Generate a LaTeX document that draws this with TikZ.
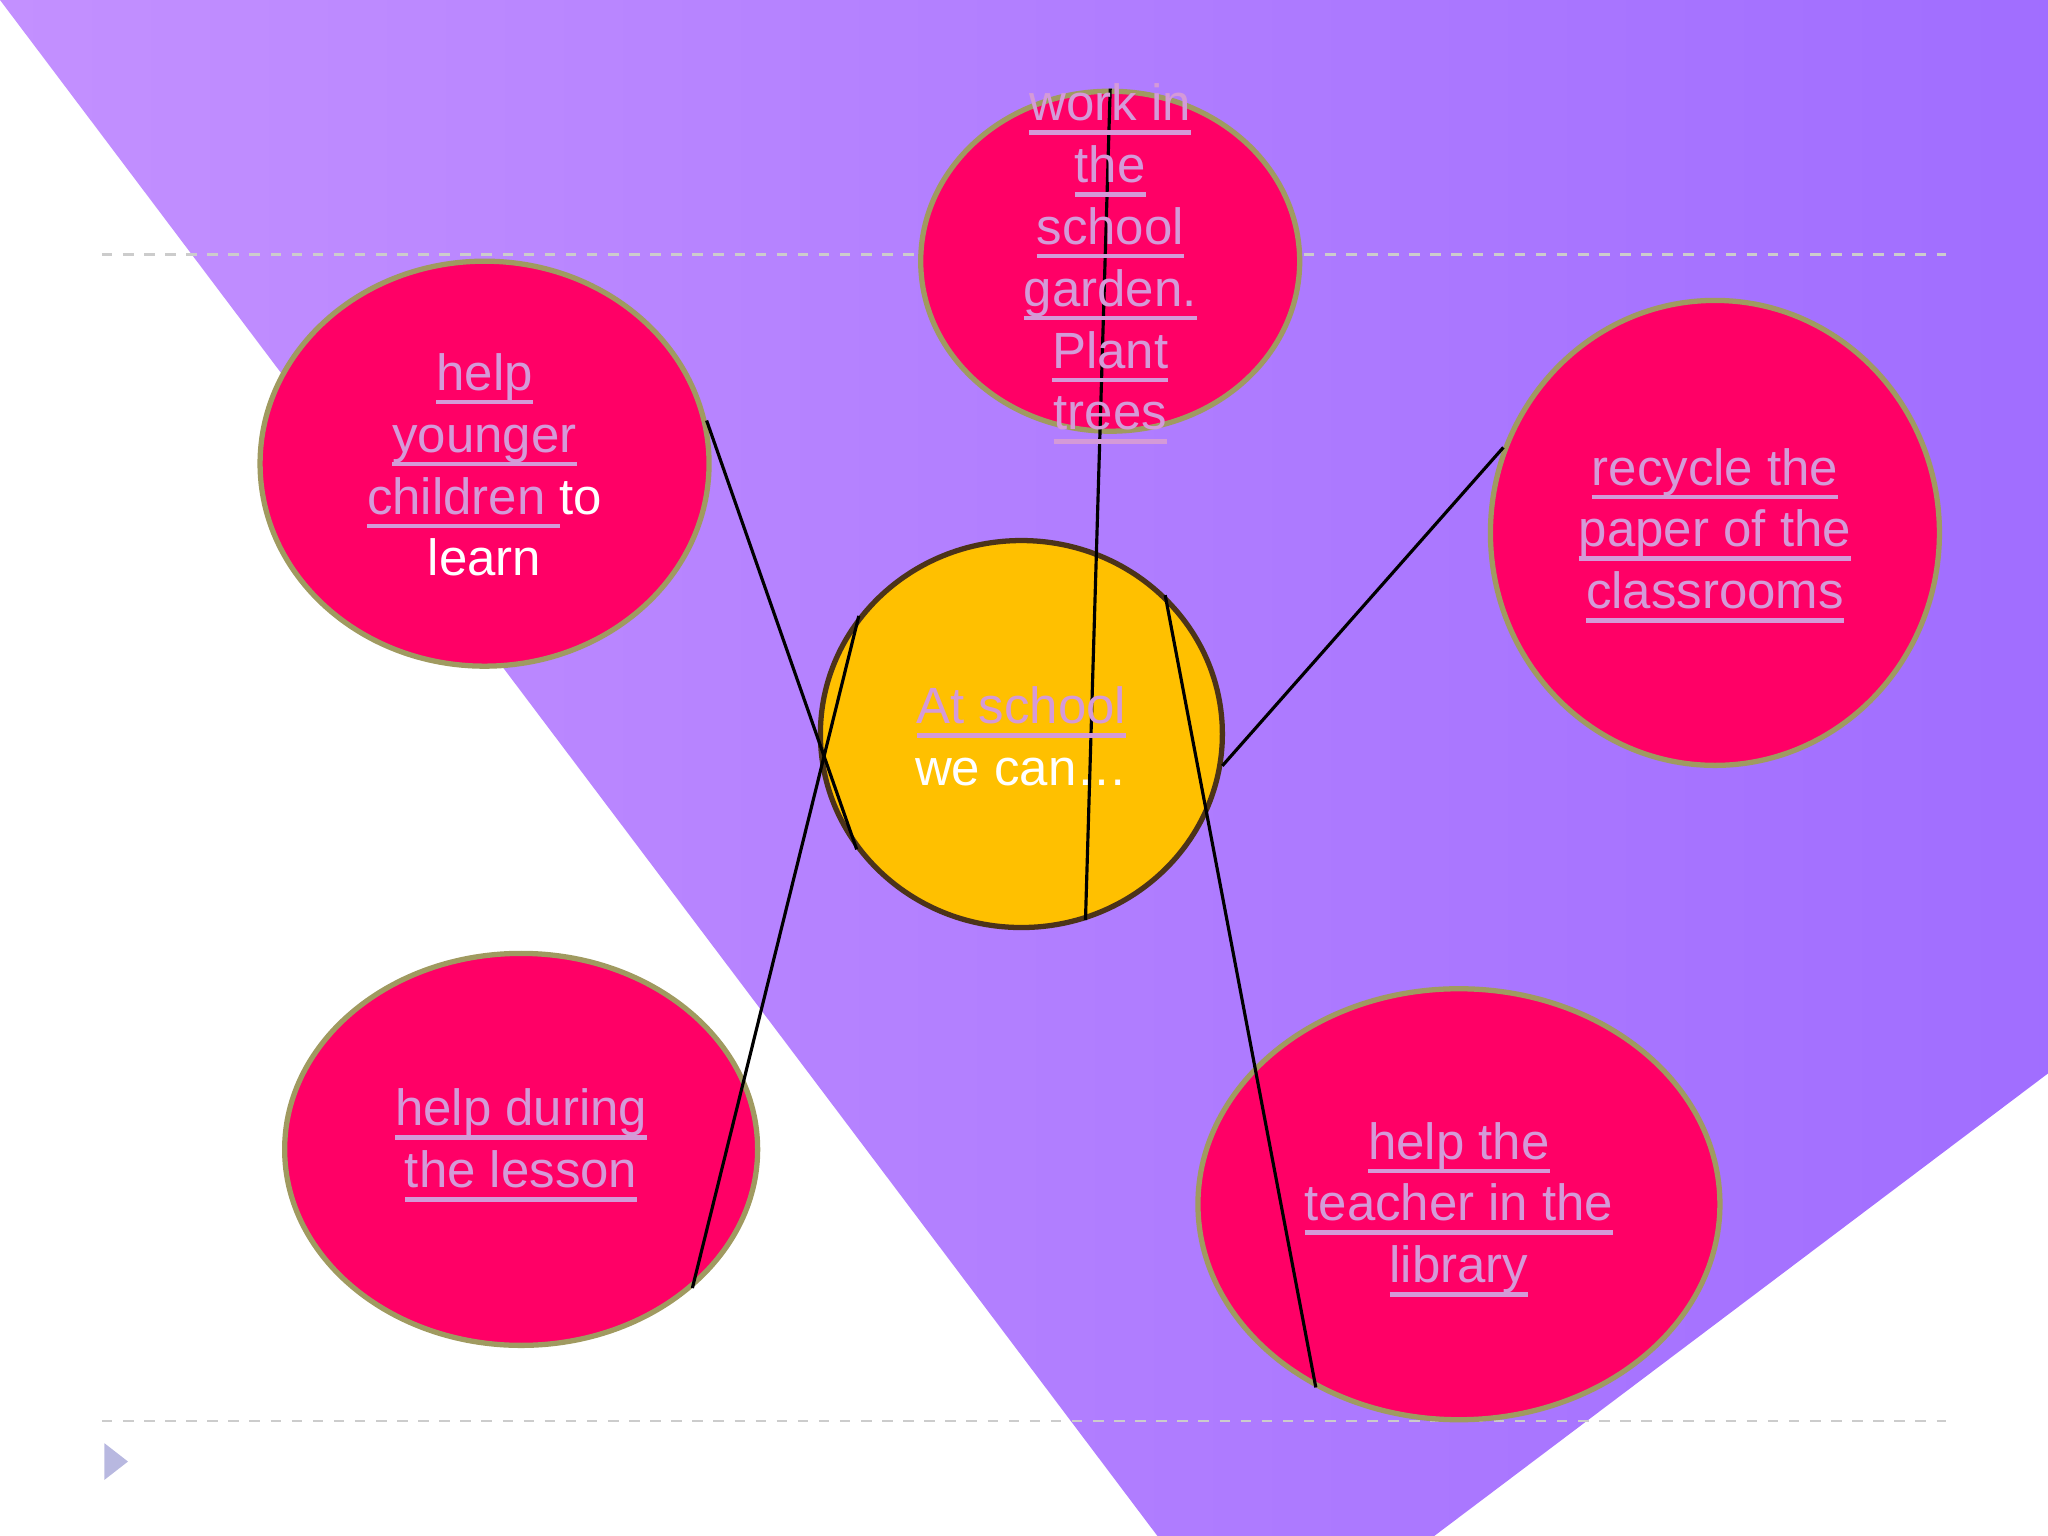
\documentclass[tikz,border=0pt]{standalone}
\usepackage{fontspec}
\setmainfont{Liberation Sans}
\usetikzlibrary{shapes.geometric}
\definecolor{pinkc}{HTML}{FF0066}
\definecolor{edgec}{HTML}{A09A60}
\definecolor{yel}{HTML}{FFC000}
\definecolor{linkc}{HTML}{D49AD8}
\definecolor{bgA}{HTML}{CCCCFF}
\definecolor{bgB}{HTML}{99CCFF}
\definecolor{bgC}{HTML}{CC99FF}
\definecolor{bgD}{HTML}{9966FF}
\pgfdeclarehorizontalshading{bgshade}{100bp}{color(0bp)=(bgA); color(18bp)=(bgB); color(33bp)=(bgC); color(66bp)=(bgD); color(88bp)=(bgB); color(100bp)=(bgA)}
\newcommand{\lk}[1]{\setbox0\hbox{#1}\rlap{\raisebox{-4pt}{\textcolor{linkc}{\rule{\wd0}{1.3pt}}}}\box0}
\tikzset{
  bubble/.style={ellipse, draw=edgec, line width=1.5pt, fill=pinkc, inner sep=0pt},
  hub/.style={ellipse, draw=black!60!brown, line width=1.5pt, fill=yel, inner sep=0pt},
  lbl/.style={align=center, font=\fontsize{14.5}{17.6}\selectfont, text=linkc},
  spoke/.style={draw=black, line width=0.9pt},
  guide/.style={draw=gray!40, dashed, line width=0.8pt}
}
\begin{document}
\begin{tikzpicture}[x=0.01306cm,y=-0.01306cm]
\useasboundingbox (0,0) rectangle (1568,1176);
\begin{scope}
\clip (0,0) rectangle (1568,1176);
\begin{scope}[rotate=37]
\shade[shading=bgshade] (0,-1600) rectangle (1960,1600);
\end{scope}
\end{scope}
\coordinate (g1a) at (78,195); \coordinate (g1b) at (1490,195);
\coordinate (g2a) at (78,1088); \coordinate (g2b) at (1490,1088);
\draw[guide] (g1a) -- (g1b);
\draw[guide] (g2a) -- (g2b);
\fill[gray!60!blue!40] (80,1105) -- (98,1119) -- (80,1133) -- cycle;
\node[hub, minimum width=4.02cm, minimum height=3.87cm] (c) at (782,562) {};
\node[bubble, minimum width=3.79cm, minimum height=3.40cm] (t) at (850,200) {};
\node[bubble, minimum width=4.49cm, minimum height=4.05cm] (l) at (371,355) {};
\node[bubble, minimum width=4.49cm, minimum height=4.65cm] (r) at (1313,408) {};
\node[bubble, minimum width=4.73cm, minimum height=3.92cm] (bl) at (399,880) {};
\node[bubble, minimum width=5.22cm, minimum height=4.31cm] (br) at (1117,922) {};
\draw[spoke] (c.-71) -- (t.90);
\draw[spoke] (c.-145) -- (l.11);
\draw[spoke] (c.-9) -- (r.158);
\draw[spoke] (c.-216) -- (bl.-39);
\draw[spoke] (c.44) -- (br.-128);
\node[lbl] (tt) at (850,202) {\lk{work in}\\\lk{the}\\\lk{school}\\\lk{garden.}\\\lk{Plant}\\\lk{trees}};
\node[lbl] (lt) at (371,356) {\lk{help}\\\lk{younger}\\\lk{children }\textcolor{white}{to}\\\textcolor{white}{learn}};
\node[lbl] (rt) at (1313,410) {\lk{recycle the}\\\lk{paper of the}\\\lk{classrooms}};
\node[lbl] (blt) at (399,877) {\lk{help during}\\\lk{the lesson}};
\node[lbl] (brt) at (1117,926) {\lk{help the}\\\lk{teacher in the}\\\lk{library}};
\node[lbl] (ct) at (782,564) {\lk{At school}\\\textcolor{white}{we can…}};
\end{tikzpicture}
\end{document}
